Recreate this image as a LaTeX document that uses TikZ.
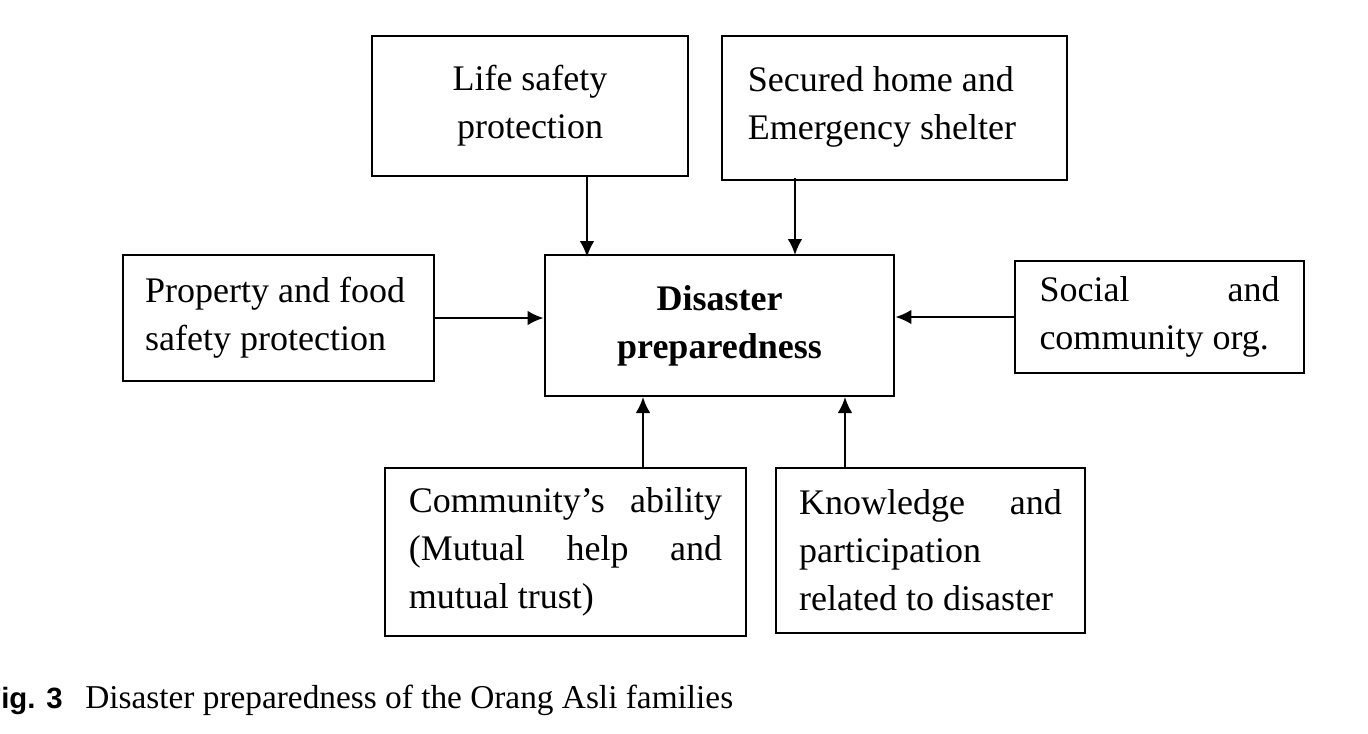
\documentclass[tikz,border=0pt]{standalone}
\usepackage{fontspec}
\setmainfont{Liberation Serif}
\newfontfamily\capsans{Liberation Sans}
\usetikzlibrary{arrows.meta}
\begin{document}
\begin{tikzpicture}[x=0.75pt,y=-0.75pt,
  box/.style={draw,line width=1.5pt,rectangle,inner sep=0pt,font=\fontsize{27}{36}\selectfont},
  arr/.style={line width=1.5pt,-{Latex[length=12pt,width=11pt]}}]
\useasboundingbox (0,0) rectangle (1368,733);
\node[box,minimum width=316*0.75pt,minimum height=140*0.75pt] (life) at (530,106) {\raisebox{18pt}{\parbox{230pt}{\centering Life safety\\protection}}};
\node[box,minimum width=345*0.75pt,minimum height=144*0.75pt] (home) at (894.5,108) {\raisebox{25.5pt}{\parbox{220pt}{\raggedright Secured home and\\Emergency shelter}}};
\node[box,line width=2.2pt,minimum width=349*0.75pt,minimum height=141*0.75pt,font=\fontsize{27}{36}\selectfont\bfseries] (dis) at (719.5,325.5) {\raisebox{20pt}{\parbox{240pt}{\centering Disaster\\preparedness}}};
\node[box,minimum width=311*0.75pt,minimum height=126*0.75pt] (prop) at (278.5,318) {\parbox{200pt}{\raggedright Property and food\\safety protection}};
\node[box,minimum width=289*0.75pt,minimum height=112*0.75pt] (soc) at (1159.5,317) {\raisebox{-11pt}{\parbox{180pt}{Social\hfill and\\community org.}}};
\node[box,minimum width=361*0.75pt,minimum height=168*0.75pt] (com) at (565.5,552) {\parbox{235pt}{Community’s\hfill ability\\(Mutual\hfill help\hfill and\\mutual trust)}};
\node[box,minimum width=309*0.75pt,minimum height=165*0.75pt] (kno) at (930.5,550.5) {\parbox{197pt}{Knowledge\hfill and\\participation\\related to disaster}};
\draw[arr] (587,176) -- (587,257);
\draw[arr] (795,178) -- (795,255);
\draw[arr] (prop.east) -- (dis.west |- prop.east);
\draw[arr] (soc.west) -- (dis.east |- soc.west);
\draw[arr] (643,468) -- (643,397);
\draw[arr] (845,468) -- (845,397);
\node[anchor=base east,font=\capsans\bfseries\fontsize{22}{24}\selectfont,inner sep=0pt] (fig) at (63,708) {Fig. 3};
\node[anchor=base west,font=\fontsize{25}{30}\selectfont,inner sep=0pt] (cap) at (85,708) {Disaster preparedness of the Orang Asli families};
\end{tikzpicture}
\end{document}
